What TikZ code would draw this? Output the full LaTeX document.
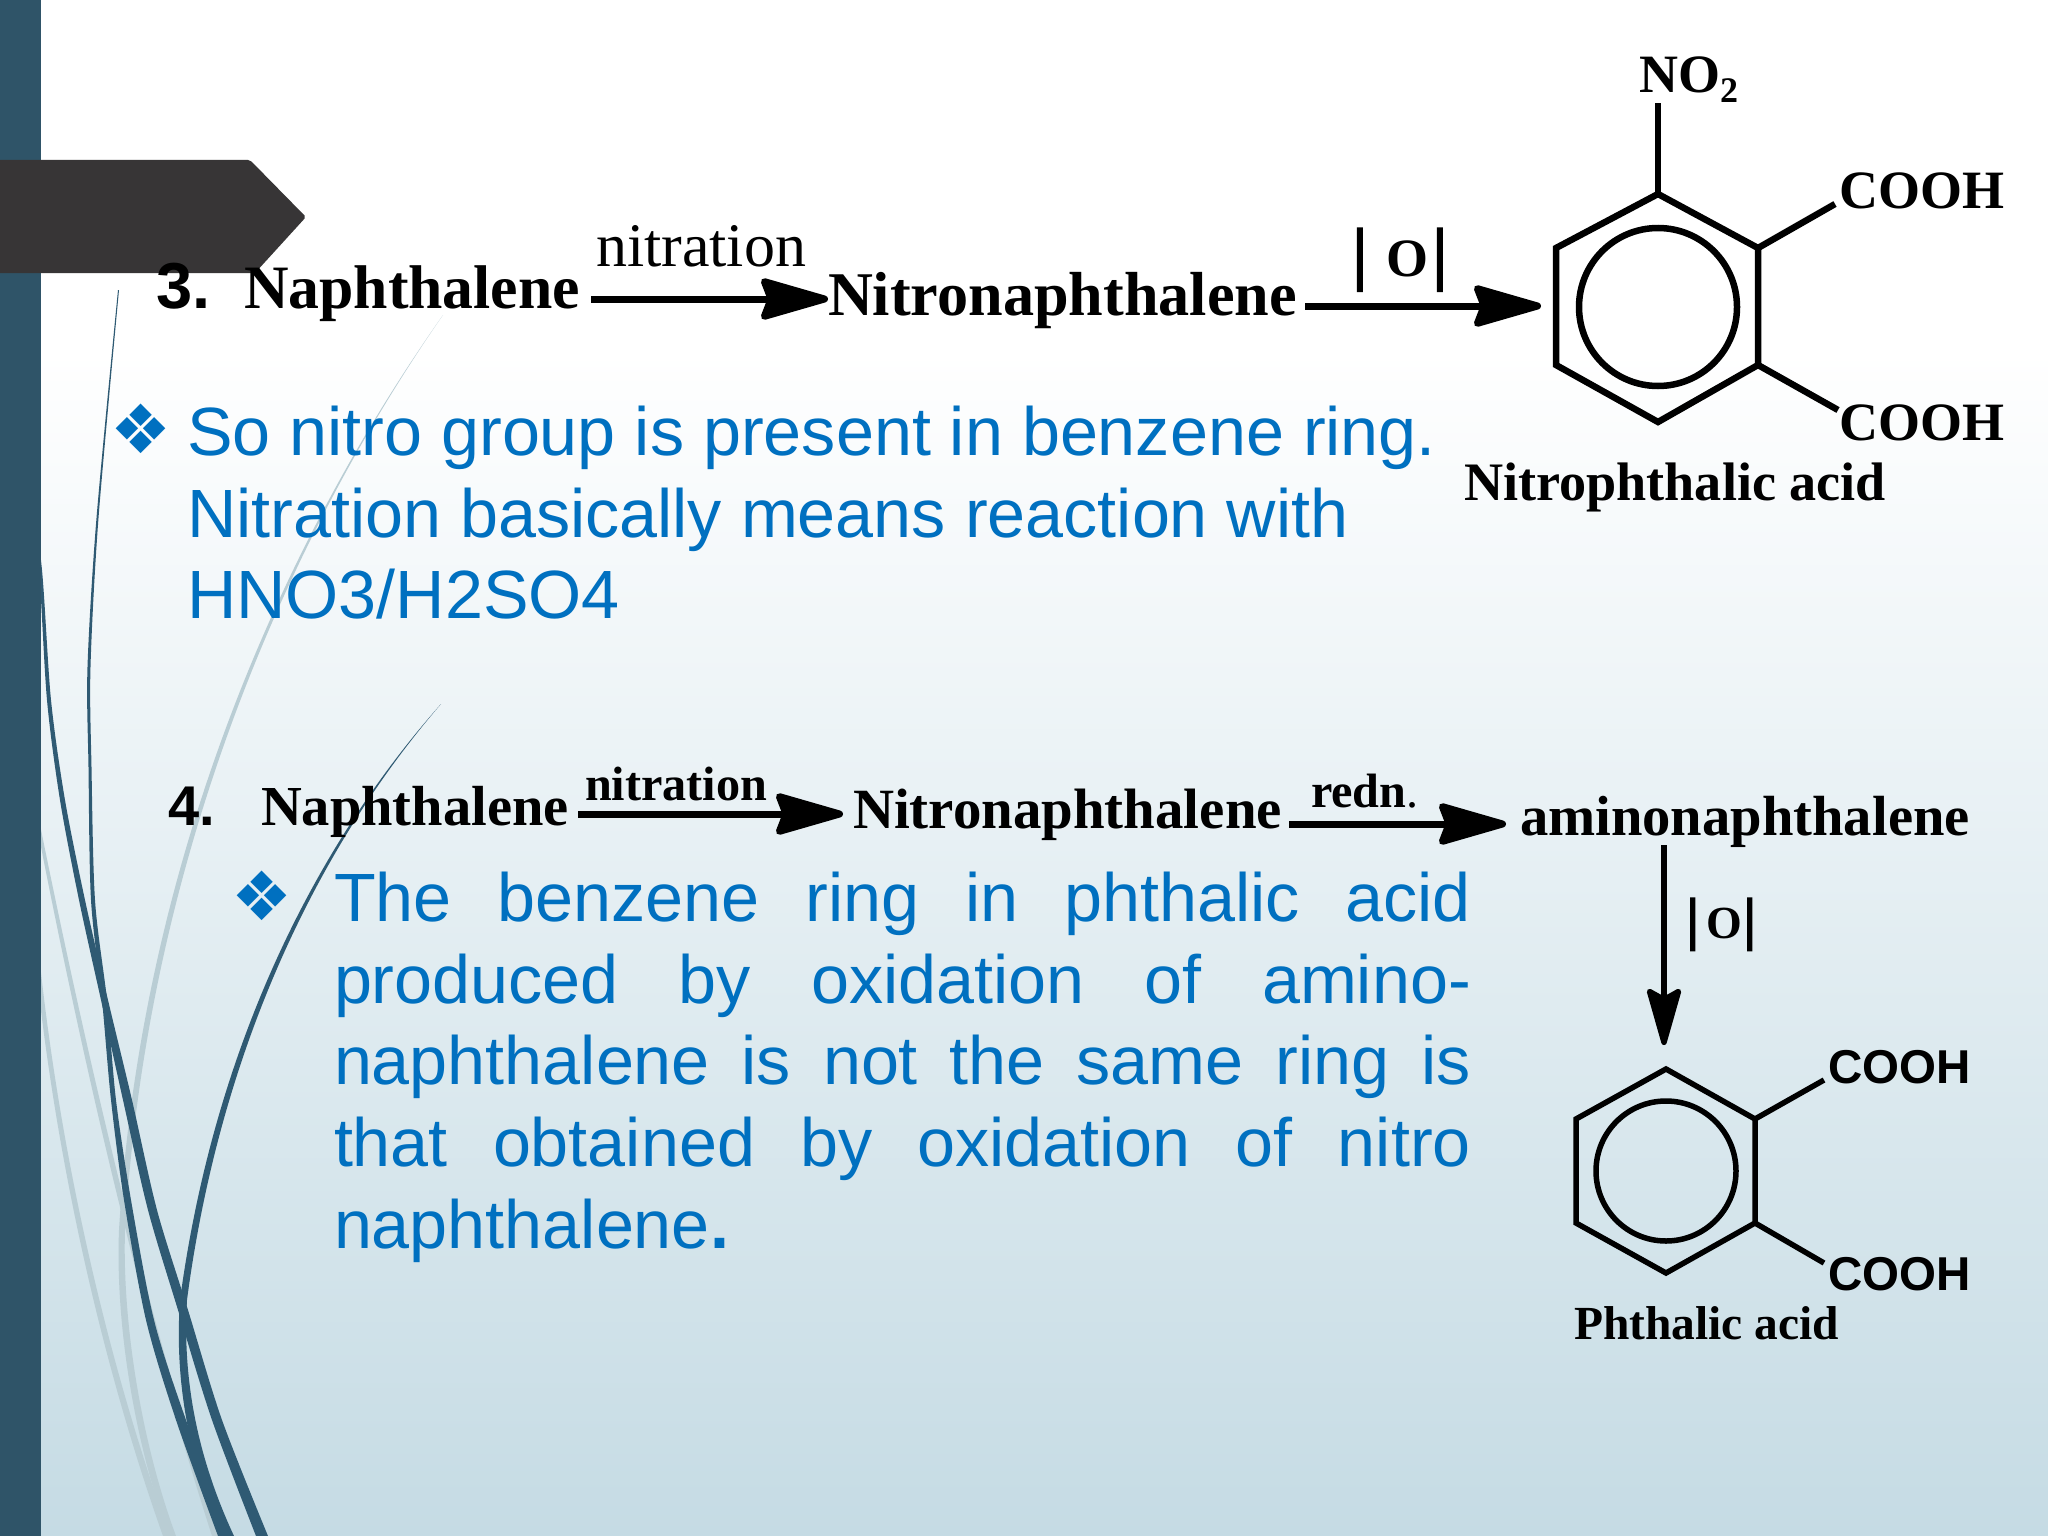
\documentclass[tikz,border=0pt]{standalone}
\usepackage{fontspec}
\usetikzlibrary{arrows.meta}
\setmainfont{Liberation Serif}
\newfontfamily\lsans{Liberation Sans}
\newfontfamily\djv{DejaVu Sans}
\newfontfamily\barf[FakeBold=4]{Liberation Serif}
\newcommand{\fz}[1]{\fontsize{#1}{#1}\selectfont}
\definecolor{barcol}{HTML}{2F5468}
\definecolor{tabcol}{HTML}{373536}
\definecolor{wispd}{HTML}{2F5A73}
\definecolor{wispl}{HTML}{B9CDD4}
\definecolor{bluetxt}{HTML}{0070C0}
\definecolor{bgbot}{HTML}{C5DBE4}
\tikzset{
  lbl/.style={inner sep=0pt,outer sep=0pt,anchor=base west,text=black},
  chem/.style={lbl,font=\bfseries\fz{54}},
  rxn/.style={lbl,font=\bfseries\fz{48.2}},
  bodyt/.style={inner sep=0pt,outer sep=0pt,anchor=north west,text=bluetxt,font=\lsans\fontsize{68.3}{81.7}\selectfont},
  bull/.style={inner sep=0pt,outer sep=0pt,anchor=base west,text=bluetxt,font=\djv\fz{68}},
  thickarrow/.style={line width=7pt,-{Stealth[length=78pt,width=44pt,inset=8pt,round]}},
  ringa/.style={line width=6.5pt,line join=miter,black},
  ringb/.style={line width=5.5pt,line join=miter,black}
}
\begin{document}
\begin{tikzpicture}[x=1pt,y=-1pt]
\useasboundingbox (0,0) rectangle (2048,1536);
\clip (0,0) rectangle (2048,1536);
\fill[white] (0,0) rectangle (2048,1536);
\shade[top color=white,bottom color=bgbot] (0,350) rectangle (2048,1536);
% wisps, light
\fill[wispl] (443,315) .. controls (270,560) and (140,880) .. (119,1230) .. controls (115,1330) and (137,1450) .. (169,1536) -- (176,1536) .. controls (144,1450) and (122,1330) .. (125,1230) .. controls (146,880) and (273,560) .. (443,315) -- cycle;
\fill[wispl] (30,790) .. controls (70,1000) and (130,1280) .. (212,1536) -- (219,1536) .. controls (136,1280) and (75,1000) .. (33,790) -- cycle;
\fill[wispl] (30,900) .. controls (45,1100) and (90,1330) .. (163,1536) -- (170,1536) .. controls (96,1330) and (50,1100) .. (34,900) -- cycle;
% wisps, dark
\fill[wispd] plot[smooth] coordinates {(118,290)(96.5,518)(87.5,667)(88.5,767)(91,900)(102,1000)(111,1100)(124,1200)(146,1320)(176,1420)(218,1536)} -- plot[smooth] coordinates {(230,1536)(186,1420)(154,1320)(131,1200)(116,1100)(107,1000)(95,900)(91.5,767)(90.5,667)(98.5,518)(119,290)} -- cycle;
\fill[wispd] plot[smooth] coordinates {(28,480)(39,570)(47,700)(60,800)(79,900)(101,1000)(123,1100)(148,1210)(178,1310)(212,1420)(256,1536)} -- plot[smooth] coordinates {(268,1536)(222,1420)(188,1310)(157,1210)(132,1100)(108,1000)(85,900)(65,800)(51,700)(42,570)(30,480)} -- cycle;
\fill[wispd] (441,704) .. controls (320,840) and (215,1040) .. (180,1300) .. controls (173,1400) and (198,1480) .. (222,1536) -- (234,1536) .. controls (208,1480) and (181,1400) .. (187,1300) .. controls (221,1042) and (322,842) .. (441,704) -- cycle;
% side bar and tab
\fill[barcol] (0,0) rectangle (41,1536);
\fill[tabcol,rounded corners=2pt] (-5,160) -- (250,160) -- (306,217) -- (255,273) -- (-5,273) -- cycle;
% row 3
\node[lbl,font=\lsans\bfseries\fz{65}] (num3) at (156,308) {3.};
\node[lbl,font=\bfseries\fz{61.7}] (naph3) at (244,308) {Naphthalene};
\node[lbl,font=\fz{62}] (nit3) at (596,266) {nitration};
\node[lbl,font=\bfseries\fz{62.2}] (nitro3) at (828,315) {Nitronaphthalene};
\node[lbl] (ox3) at (1353,276) {\rlap{\barf\fz{68}|}\hspace{33pt}\rlap{\bfseries\fz{54}O}\hspace{47pt}\rlap{\barf\fz{68}|}};
\coordinate (a1s) at (591,299);
\coordinate (a1e) at (828,299);
\coordinate (a2s) at (1305,306);
\coordinate (a2e) at (1541,306);
\draw[thickarrow] (a1s) -- (a1e);
\draw[thickarrow] (a2s) -- (a2e);
% nitrophthalic acid
\coordinate (r1) at (1658,194);
\coordinate (r2) at (1758,248);
\coordinate (r3) at (1758,365);
\coordinate (r4) at (1658,422);
\coordinate (r5) at (1556,365);
\coordinate (r6) at (1556,248);
\coordinate (rc) at (1658,307);
\draw[ringa] (r1) -- (r2) -- (r3) -- (r4) -- (r5) -- (r6) -- cycle;
\draw[ringa] (rc) circle (79);
\node[chem] (no2) at (1639,93) {NO\raisebox{-10pt}{\fz{36}2}};
\node[chem] (cooh1) at (1839,208) {COOH};
\node[chem] (cooh2) at (1839,440) {COOH};
\coordinate (no2b) at (1658,103);
\coordinate (c1b) at (1835,204);
\coordinate (c2b) at (1838,410);
\draw[ringa] (r1) -- (no2b);
\draw[ringa] (r2) -- (c1b);
\draw[ringa] (r3) -- (c2b);
\node[lbl,font=\bfseries\fz{54.2}] (nacid) at (1464,500) {Nitrophthalic acid};
% body 1
\node[bull] (b1) at (110,453) {❖};
\node[bodyt,align=left] (t1) at (187,406) {So nitro group is present in benzene ring.\\Nitration basically means reaction with\\HNO3/H2SO4};
% row 4
\node[lbl,font=\lsans\bfseries\fz{56}] (num4) at (168,825) {4.};
\node[lbl,font=\bfseries\fz{56.5}] (naph4) at (261,825) {Naphthalene};
\node[rxn] (nit4) at (585,800) {nitration};
\node[lbl,font=\bfseries\fz{56.9}] (nitro4) at (853,828) {Nitronaphthalene};
\node[rxn] (red4) at (1311,807) {redn\textmd{.}};
\node[lbl,font=\bfseries\fz{56.6}] (amino) at (1520,835) {aminonaphthalene};
\coordinate (a3s) at (578,814);
\coordinate (a3e) at (843,814);
\coordinate (a4s) at (1289,824);
\coordinate (a4e) at (1506,824);
\coordinate (a5s) at (1664,845);
\coordinate (a5e) at (1664,1045);
\draw[thickarrow] (a3s) -- (a3e);
\draw[thickarrow] (a4s) -- (a4e);
\draw[line width=5.5pt,-{Stealth[length=66pt,width=37pt,inset=10pt,round]}] (a5s) -- (a5e);
\node[lbl] (ox4) at (1687,938) {\rlap{\barf\fz{57}|}\hspace{19pt}\rlap{\bfseries\fz{46}O}\hspace{38pt}\rlap{\barf\fz{57}|}};
% phthalic acid
\coordinate (s1) at (1666,1069);
\coordinate (s2) at (1755,1119);
\coordinate (s3) at (1755,1223);
\coordinate (s4) at (1666,1273);
\coordinate (s5) at (1576,1223);
\coordinate (s6) at (1576,1119);
\coordinate (sc) at (1666,1171);
\draw[ringb] (s1) -- (s2) -- (s3) -- (s4) -- (s5) -- (s6) -- cycle;
\draw[ringb] (sc) circle (70);
\node[lbl,font=\lsans\bfseries\fz{47.5}] (cooh3) at (1828,1083) {COOH};
\node[lbl,font=\lsans\bfseries\fz{47.5}] (cooh4) at (1828,1290) {COOH};
\coordinate (c3b) at (1824,1080);
\coordinate (c4b) at (1824,1263);
\draw[ringb] (s2) -- (c3b);
\draw[ringb] (s3) -- (c4b);
\node[lbl,font=\bfseries\fz{47.5}] (pacid) at (1574,1339) {Phthalic acid};
% body 2
\node[bull] (b2) at (231,920) {❖};
\node[bodyt,text width=1137pt,align=justify] (t2) at (334,872) {The benzene ring in phthalic acid\linebreak produced by oxidation of amino-\linebreak naphthalene is not the same ring is\linebreak that obtained by oxidation of nitro\linebreak naphthalene{\bfseries .}};
\end{tikzpicture}
\end{document}
